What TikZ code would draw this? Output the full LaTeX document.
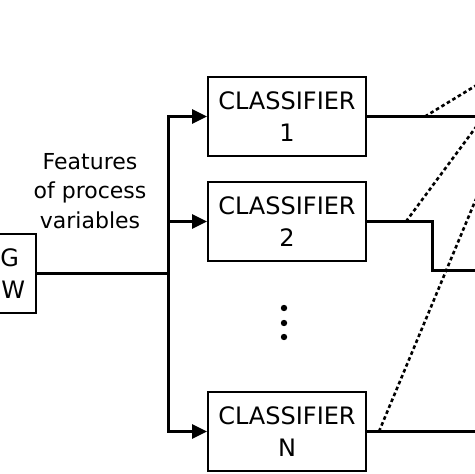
\documentclass[tikz,border=0pt]{standalone}
\usepackage{fontspec}
\setmainfont{DejaVu Sans}
\usetikzlibrary{arrows.meta}

\tikzset{
  block/.style={draw, line width=1pt, minimum width=79pt, minimum height=39.5pt, align=center, inner sep=0pt},
  wire/.style={line width=1.5pt},
  link/.style={line width=1.3pt, dash pattern=on 1.8pt off 1.4pt},
}

\begin{document}
\begin{tikzpicture}[x=0.5pt, y=-0.5pt, font=\fontsize{12}{16}\selectfont, >={Triangle[length=7.5pt,width=7pt]}]
        \useasboundingbox (0,0) rectangle (474,474);
        \node[block, anchor=east, minimum width=0pt, inner xsep=5.5pt] (win) at (37,273.5) {SLIDING\\WINDOW};
        \node[block] (c1) at (287,116.5) {CLASSIFIER\\1};
        \node[block] (c2) at (287,221.5) {CLASSIFIER\\2};
        \node[block] (cN) at (287,431.5) {CLASSIFIER\\N};
        \node[align=center, inner sep=0pt, anchor=north, font=\fontsize{11}{14.75}\selectfont] (feat) at (90,153) {Features\\of process\\variables};
        \coordinate (split) at (168,273.5);
        \coordinate (step) at (432,221.5);
        \coordinate (o1) at (476,116.5);
        \coordinate (o2) at (476,271);
        \coordinate (oN) at (476,431.5);
        \coordinate (t1) at (425,116.5);
        \coordinate (t2) at (406,221.5);
        \coordinate (tN) at (379,431.5);
        \coordinate (u1) at (476,85.5);
        \coordinate (u2) at (476,127);
        \coordinate (uN) at (476,199);
        \draw[wire] (win.east) -- (split);
        \draw[wire, ->] (split) |- (c1);
        \draw[wire, ->] (split) |- (c2);
        \draw[wire, ->] (split) |- (cN);
        \draw[wire] (c1) -- (o1);
        \draw[wire] (c2.east) -- (step) |- (o2);
        \draw[wire] (cN) -- (oN);
        % links to the next stage
        \draw[link] (t1) -- (u1);
        \draw[link] (t2) -- (u2);
        \draw[link] (tN) -- (uN);
        \foreach \y in {308,323,337}
          \fill (284,\y) circle (1.6pt);
\end{tikzpicture}
\end{document}
